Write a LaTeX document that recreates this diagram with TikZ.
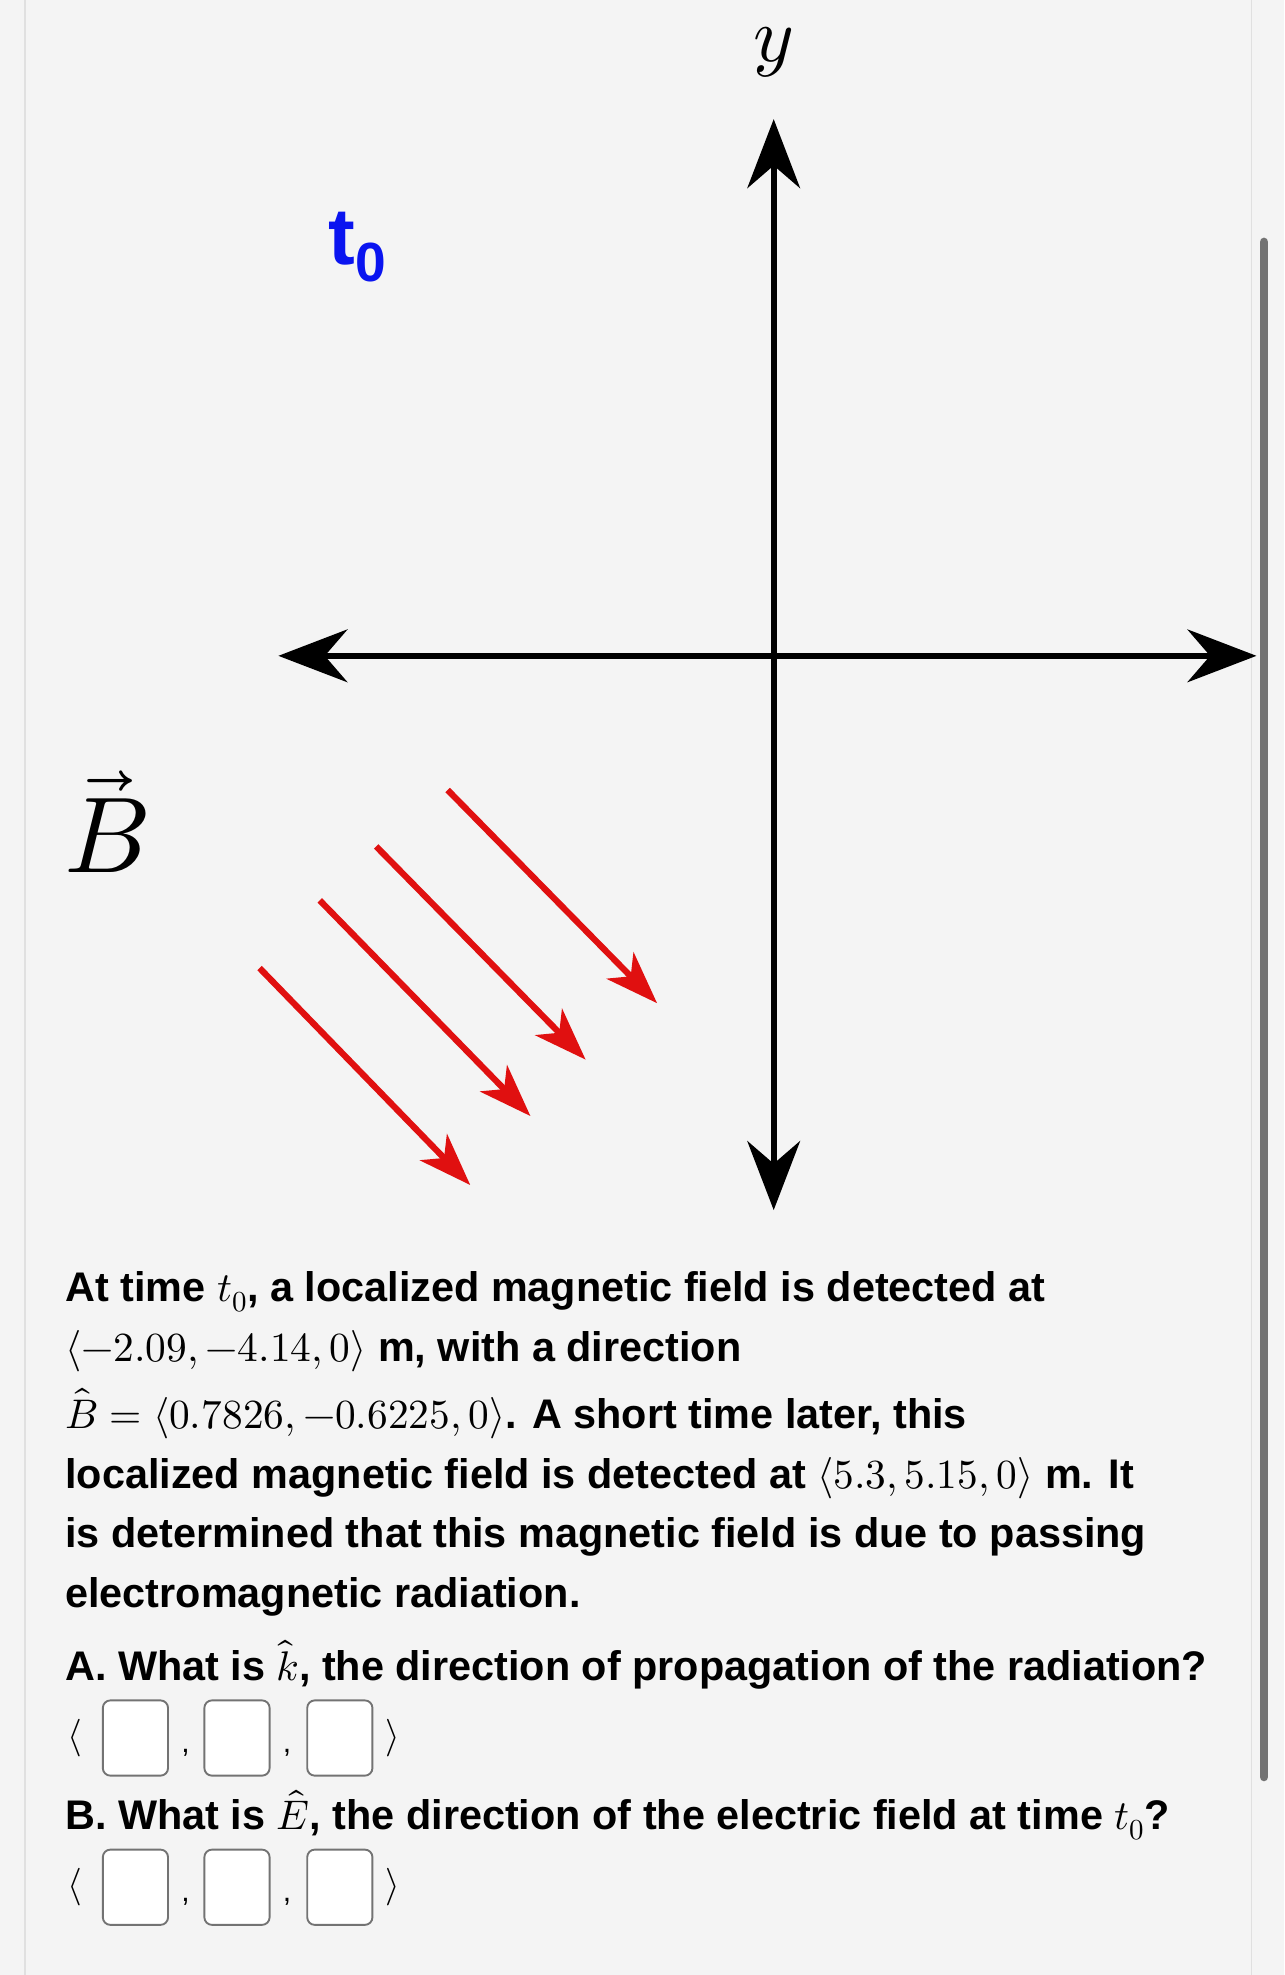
\documentclass[tikz,border=0pt]{standalone}
\usepackage{fontspec}
\setmainfont{Liberation Sans}
\usepackage{amsmath}
\usepackage{unicode-math}
\setmathfont{Latin Modern Math}
\usetikzlibrary{arrows.meta}
\definecolor{bg}{HTML}{F4F4F4}
\definecolor{tblue}{HTML}{0A14F0}
\definecolor{ared}{HTML}{E01010}
\tikzset{
  ax/.style={line width=5pt,-{Stealth[length=55pt,width=42pt,inset=18pt]}},
  rar/.style={draw=ared,line width=5pt,-{Stealth[length=42pt,width=30pt,inset=12pt]}},
  txt/.style={anchor=base west,inner sep=0pt,font=\fontsize{33}{36}\selectfont\bfseries},
  ibox/.style={draw=black!55,line width=1.5pt,rounded corners=6pt,minimum width=52pt,minimum height=60pt,inner sep=0pt,fill=white}
}
\begin{document}
\begin{tikzpicture}[x=1pt,y=-1pt]
\useasboundingbox (0,0) rectangle (1024,1575);
\fill[bg] (0,0) rectangle (1024,1575);
\draw[black!12,line width=1.5pt] (20,0) -- (20,1575);
\draw[black!12,line width=1.5pt] (998,0) -- (998,1575);
\draw[black!55,line width=7pt,line cap=round] (1008,193) -- (1008,1417);
\coordinate (yt) at (617,95); \coordinate (yb) at (617,965);
\coordinate (xl) at (222,523); \coordinate (xr) at (1002,523);
\coordinate (c) at (617,523);
\draw[ax] (c) -- (yt);
\draw[ax] (c) -- (yb);
\draw[ax] (c) -- (xl);
\draw[ax] (c) -- (xr);
\node[inner sep=0pt] (ylab) at (617,42) {\fontsize{62}{66}\selectfont$y$};
\node[text=tblue] (tlab) at (285,197) {\fontsize{64}{70}\selectfont\bfseries t\raisebox{-14pt}{\fontsize{44}{50}\selectfont 0}};
\node (blab) at (85,655) {\fontsize{86}{90}\selectfont$\vec{B}$};
\coordinate (a1) at (357,630); \coordinate (b1) at (524,800);
\coordinate (a2) at (300,675); \coordinate (b2) at (467,845);
\coordinate (a3) at (255,718); \coordinate (b3) at (423,890);
\coordinate (a4) at (207,772); \coordinate (b4) at (375,945);
\draw[rar] (a1) -- (b1);
\draw[rar] (a2) -- (b2);
\draw[rar] (a3) -- (b3);
\draw[rar] (a4) -- (b4);
\node[txt] (l1) at (52,1038) {At time $t_0$, a localized magnetic field is detected at};
\node[txt] (l2) at (52,1086) {$\langle -2.09, -4.14, 0\rangle$ m, with a direction};
\node[txt] (l3) at (52,1139) {$\hat{B} = \langle 0.7826, -0.6225, 0\rangle$. A short time later, this};
\node[txt] (l4) at (52,1187) {localized magnetic field is detected at $\langle 5.3, 5.15, 0\rangle$ m. It};
\node[txt] (l5) at (52,1234) {is determined that this magnetic field is due to passing};
\node[txt] (l6) at (52,1282) {electromagnetic radiation.};
\node[txt] (qa) at (52,1340) {A. What is $\hat{k}$, the direction of propagation of the radiation?};
\node[txt] (qb) at (52,1459) {B. What is $\hat{E}$, the direction of the electric field at time $t_0$?};
\foreach \yy/\nm in {1386/a,1505/b}{
  \node[font=\fontsize{30}{36}\selectfont] (lb\nm) at (60,\yy) {$\langle$};
  \node[ibox] (b1\nm) at (108,\yy) {};
  \node[ibox] (b2\nm) at (189,\yy) {};
  \node[ibox] (b3\nm) at (271,\yy) {};
  \node[font=\fontsize{30}{36}\selectfont] (rb\nm) at (313,\yy) {$\rangle$};
  \node[font=\fontsize{24}{28}\selectfont] (c1\nm) at (148,\yy+12) {,};
  \node[font=\fontsize{24}{28}\selectfont] (c2\nm) at (229,\yy+12) {,};
}
\end{tikzpicture}
\end{document}
